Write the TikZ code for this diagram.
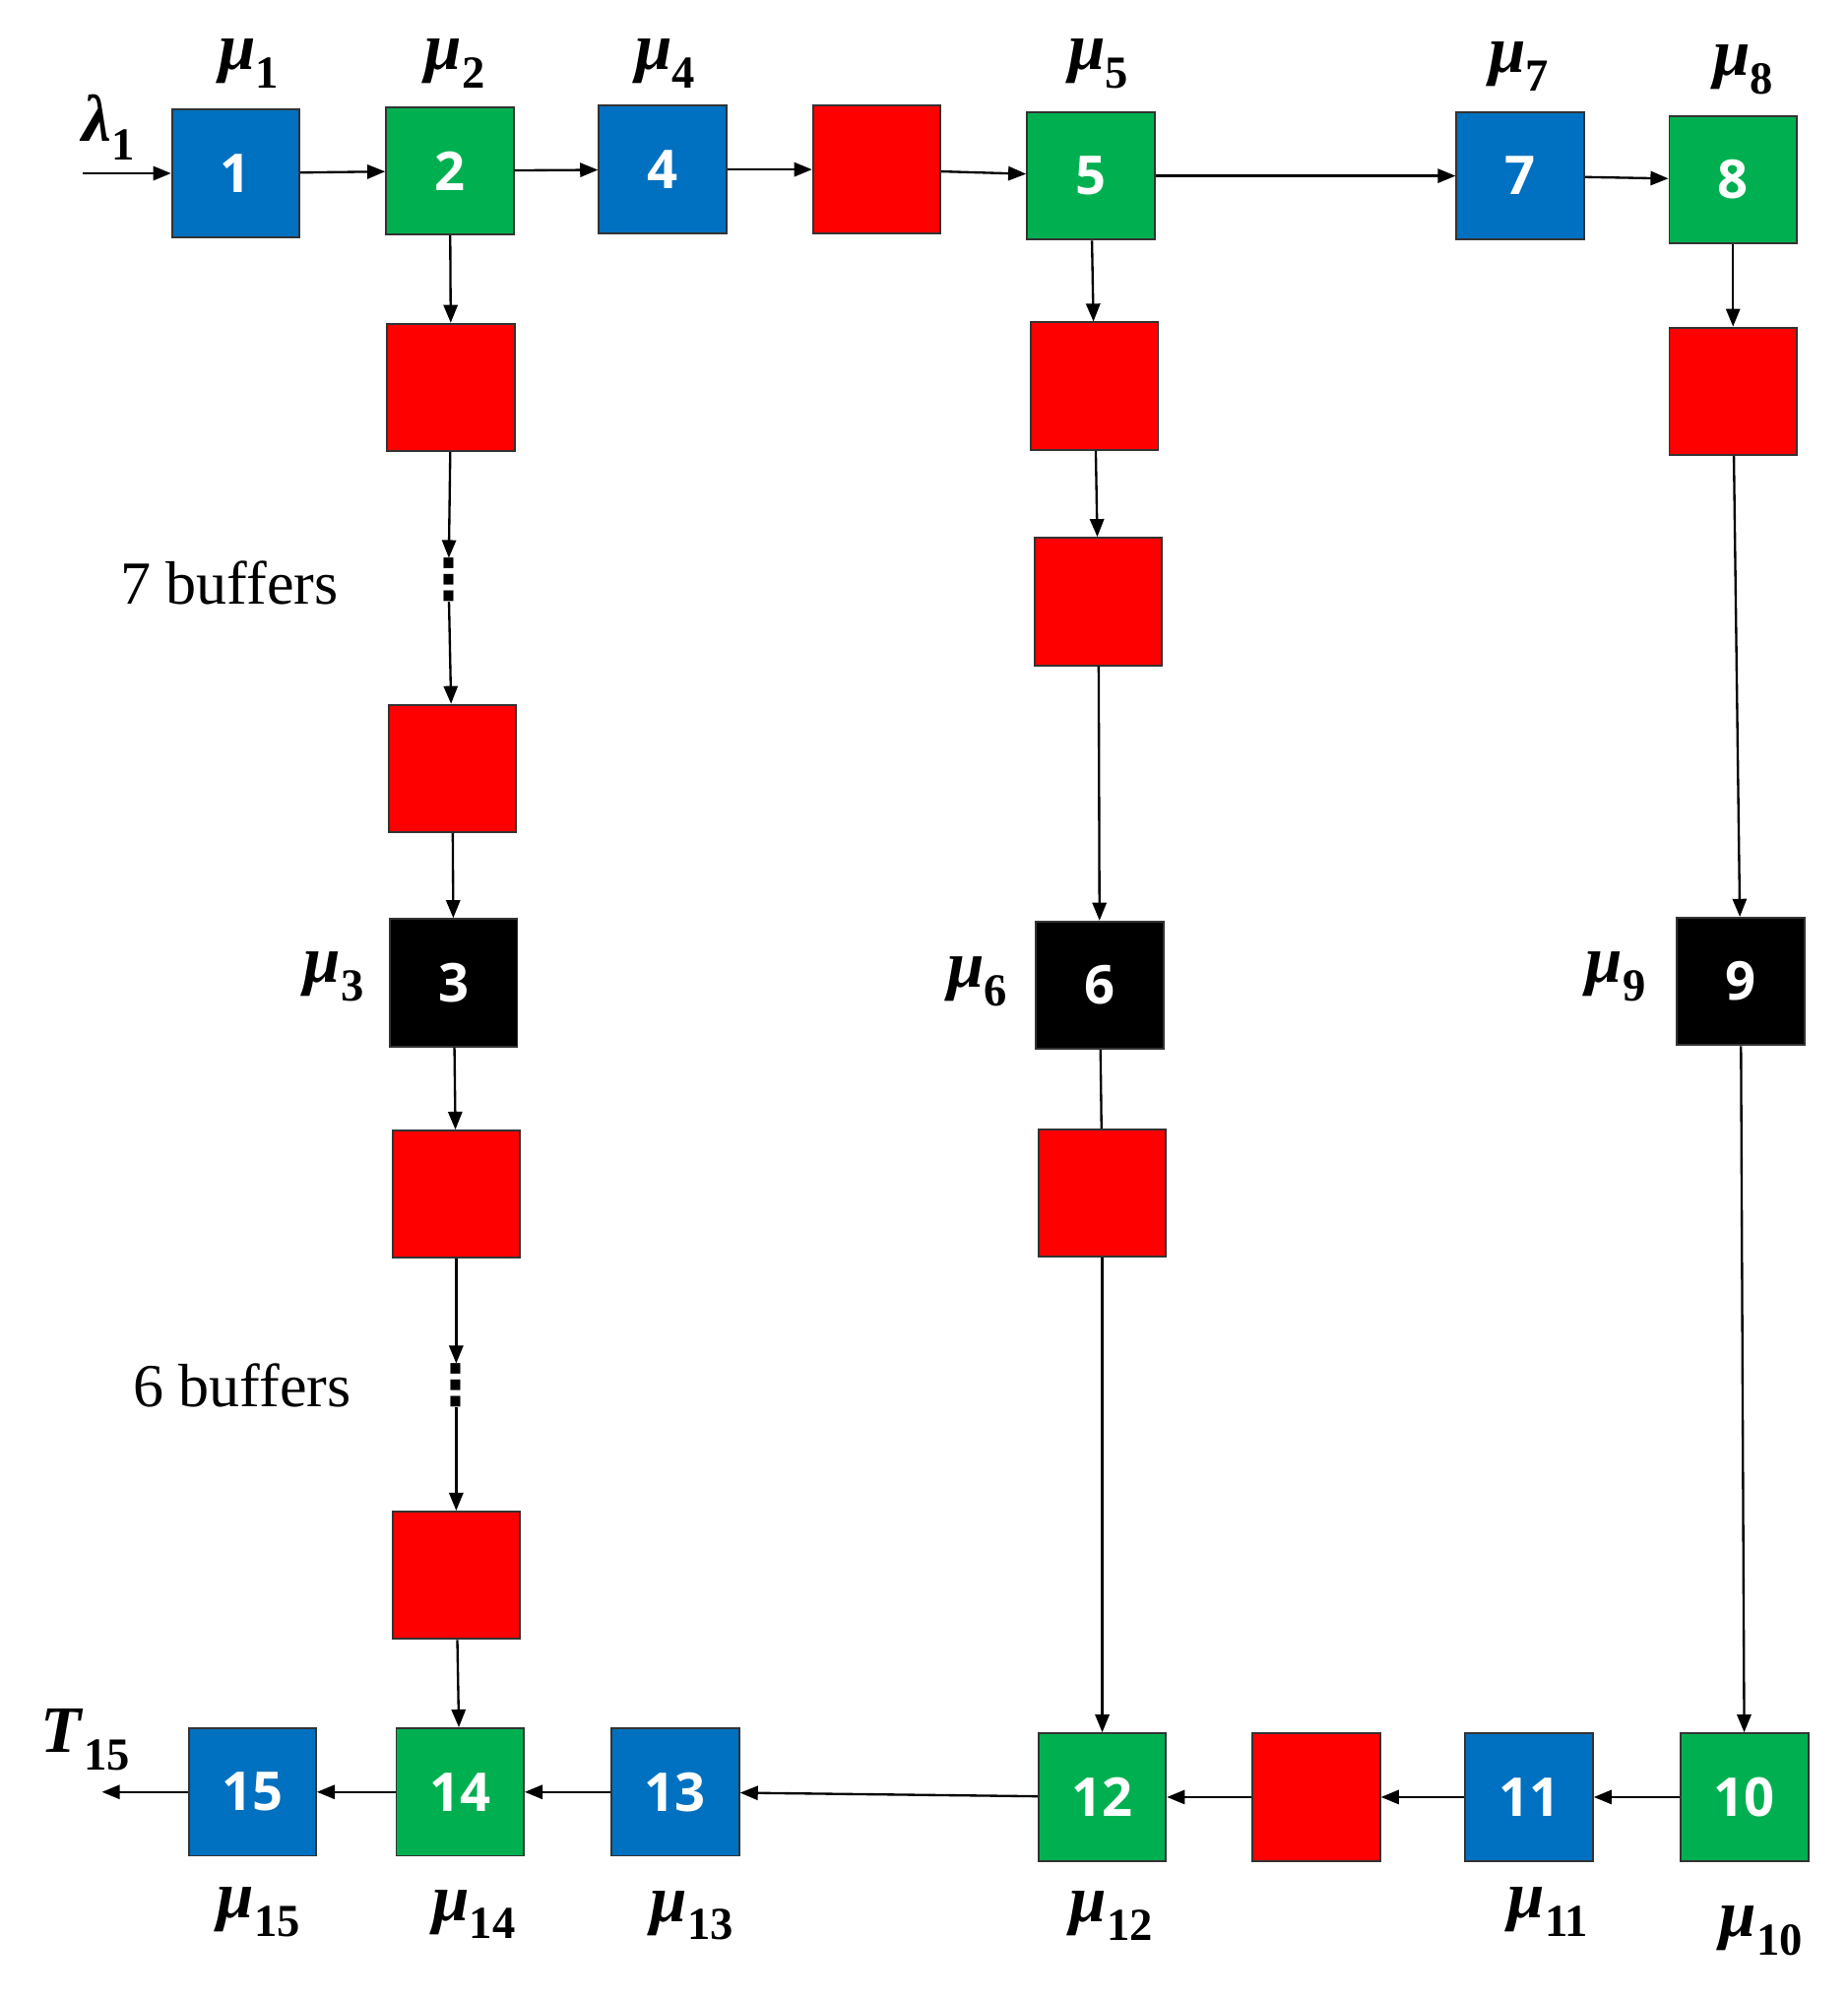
\documentclass[tikz,border=0pt]{standalone}
\usepackage{fontspec}
\setmainfont{Liberation Serif}
\newfontfamily\numfont{Open Sans}
\newfontfamily\dotfont{DejaVu Sans}
\usetikzlibrary{arrows.meta}
\definecolor{qblue}{HTML}{0070C0}
\definecolor{qgreen}{HTML}{00B050}
\definecolor{qred}{HTML}{FF0000}
\tikzset{
 box/.style={draw=black!80,line width=1.5pt,minimum width=100pt,minimum height=100pt,inner sep=0pt,text=white,font=\numfont\bfseries\fontsize{42}{46}\selectfont},
 bl/.style={box,fill=qblue}, gr/.style={box,fill=qgreen}, rd/.style={box,fill=qred}, bk/.style={box,fill=black},
 lab/.style={font=\bfseries\fontsize{52}{56}\selectfont},
 txt/.style={font=\fontsize{48}{52}\selectfont},
 dots/.style={font=\dotfont\bfseries\fontsize{44}{48}\selectfont,inner sep=0pt},
 arr/.style={line width=1.8pt,-{Triangle[length=14pt,width=11pt]}},
 ln/.style={line width=1.8pt}
}
\newcommand{\sublab}[2]{\textit{#1}\raisebox{-0.28em}{\fontsize{36}{36}\selectfont #2}}
\newcommand{\mlab}[1]{\sublab{μ}{#1}}
\begin{document}
\begin{tikzpicture}[x=1pt,y=-1pt]
\useasboundingbox (0,0) rectangle (1450,1570);
% top row
\node[bl] (n1) at (185,136) {1};
\node[gr] (n2) at (353,134) {2};
\node[bl] (n4) at (520,133) {4};
\node[rd] (r45) at (688,133) {};
\node[gr] (n5) at (856,138) {5};
\node[bl] (n7) at (1193,138) {7};
\node[gr] (n8) at (1360,141) {8};
% column 2/3
\node[rd] (ra1) at (354,304) {};
\node[dots] (d1) at (352,455) {⋮};
\node[rd] (ra2) at (355,603) {};
\node[bk] (n3) at (356,771) {3};
\node[rd] (rb1) at (358,937) {};
\node[dots] (d2) at (358,1087) {⋮};
\node[rd] (rb2) at (358,1236) {};
\node[gr] (n14) at (361,1406) {14};
% column 5/6
\node[rd] (rc1) at (859,303) {};
\node[rd] (rc2) at (862,472) {};
\node[bk] (n6) at (863,773) {6};
\node[rd] (rd1) at (865,936) {};
\node[gr] (n12) at (865,1410) {12};
% column 8/9
\node[rd] (re1) at (1360,307) {};
\node[bk] (n9) at (1366,770) {9};
\node[gr] (n10) at (1369,1410) {10};
% bottom row
\node[bl] (n11) at (1200,1410) {11};
\node[rd] (rf1) at (1033,1410) {};
\node[bl] (n13) at (530,1406) {13};
\node[bl] (n15) at (198,1406) {15};
% labels
\node[lab] (l1) at (195,50) {\mlab{1}};
\node[lab] (l2) at (357,50) {\mlab{2}};
\node[lab] (l4) at (522,50) {\mlab{4}};
\node[lab] (l5) at (862,50) {\mlab{5}};
\node[lab] (l7) at (1192,52) {\mlab{7}};
\node[lab] (l8) at (1368,55) {\mlab{8}};
\node[lab] (ll) at (85,100) {\sublab{λ}{1}};
\node[lab] (l3) at (262,766) {\mlab{3}};
\node[lab] (l6) at (767,770) {\mlab{6}};
\node[lab] (l9) at (1268,766) {\mlab{9}};
\node[lab] (l15) at (203,1500) {\mlab{15}};
\node[lab] (l14) at (372,1502) {\mlab{14}};
\node[lab] (l13) at (543,1503) {\mlab{13}};
\node[lab] (l12) at (872,1503) {\mlab{12}};
\node[lab] (l11) at (1215,1500) {\mlab{11}};
\node[lab] (l10) at (1382,1515) {\mlab{10}};
\node[lab] (lt) at (67,1365) {\sublab{T}{15}};
\node[txt] (b7) at (180,457) {7 buffers};
\node[txt] (b6) at (190,1087) {6 buffers};
% coordinates
\coordinate (in) at (65,136);
\coordinate (out) at (80,1406);
% connectors
\draw[arr] (in) -- (n1);
\draw[arr] (n1) -- (n2);
\draw[arr] (n2) -- (n4);
\draw[arr] (n4) -- (r45);
\draw[arr] (r45) -- (n5);
\draw[arr] (n5) -- (n7);
\draw[arr] (n7) -- (n8);
\draw[arr] (n2) -- (ra1);
\draw[arr] (ra1) -- (d1);
\draw[arr] (d1) -- (ra2);
\draw[arr] (ra2) -- (n3);
\draw[arr] (n3) -- (rb1);
\draw[arr] (rb1) -- (d2);
\draw[arr] (d2) -- (rb2);
\draw[arr] (rb2) -- (n14);
\draw[arr] (n5) -- (rc1);
\draw[arr] (rc1) -- (rc2);
\draw[arr] (rc2) -- (n6);
\draw[ln] (n6) -- (rd1);
\draw[arr] (rd1) -- (n12);
\draw[arr] (n8) -- (re1);
\draw[arr] (re1) -- (n9);
\draw[arr] (n9) -- (n10);
\draw[arr] (n10) -- (n11);
\draw[arr] (n11) -- (rf1);
\draw[arr] (rf1) -- (n12);
\draw[arr] (n12) -- (n13);
\draw[arr] (n13) -- (n14);
\draw[arr] (n14) -- (n15);
\draw[arr] (n15) -- (out);
\end{tikzpicture}
\end{document}
